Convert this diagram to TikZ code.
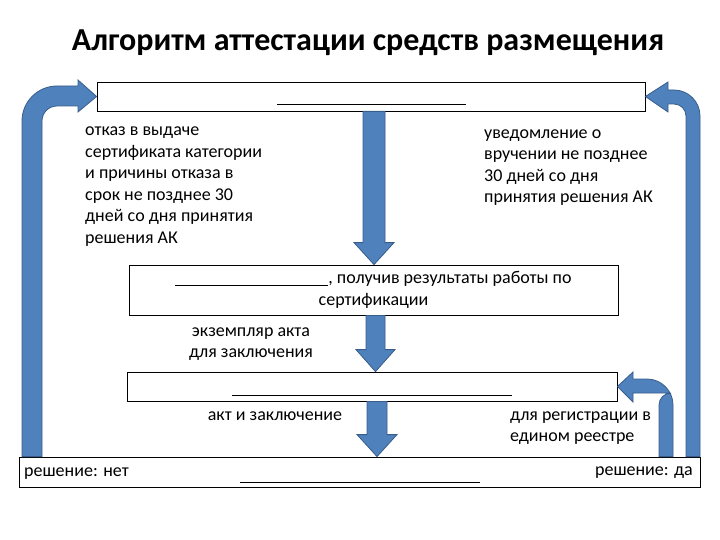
\documentclass[tikz,border=0pt]{standalone}
\usepackage{fontspec}
\setmainfont{Carlito}
\usetikzlibrary{calc}

\definecolor{arrowblue}{HTML}{4F81BD}
\definecolor{arrowedge}{HTML}{385D8A}

\tikzset{
    box/.style={draw, line width=0.8pt, inner sep=0pt},
    blockarrow/.style={fill=arrowblue, draw=arrowedge, line width=0.8pt},
    lbl/.style={inner sep=0pt, font=\fontsize{18}{21.5}\selectfont},
    blank/.style={inner sep=0pt}
}

% block arrow pointing down: from node, to node, x of axis, half shaft, half head
\newcommand{\blockdown}[5]{%
    \filldraw[blockarrow] (#3-#4,0 |- #1.south) -- ($(#3-#4,0 |- #2.north)+(0,-22)$)
        -- ($(#3-#5,0 |- #2.north)+(0,-22)$) -- (#3,0 |- #2.north)
        -- ($(#3+#5,0 |- #2.north)+(0,-22)$) -- ($(#3+#4,0 |- #2.north)+(0,-22)$)
        -- (#3+#4,0 |- #1.south) -- cycle;}

\begin{document}
\begin{tikzpicture}[x=1pt, y=-1pt]
    \useasboundingbox (0,0) rectangle (720,540);

    % Title
    \node[inner sep=0pt, font=\fontsize{32}{36}\selectfont\bfseries] (title) at (368,43) {Алгоритм аттестации средств размещения};

    % Boxes
    \node[box, minimum width=548pt, minimum height=29pt] (top) at (371,96.5) {};
    \node[box, minimum width=489pt, minimum height=50pt, align=center, font=\fontsize{18}{21.5}\selectfont] (mid) at (373.5,290)
        {\rule[-2pt]{153pt}{0.7pt}, получив результаты работы по\\сертификации};
    \node[box, minimum width=490pt, minimum height=29pt] (act) at (372,386.5) {};
    \node[box, minimum width=681pt, minimum height=30pt] (bottom) at (359.5,472) {};

    % Blanks
    \node[blank] (topline) at (371.5,104) {\rule{189pt}{0.7pt}};
    \node[blank] (actline) at (372,395) {\rule{280pt}{0.7pt}};
    \node[blank] (bottomline) at (360,482) {\rule{240pt}{0.7pt}};

    % Arrows
    \blockdown{top}{mid}{374}{11}{20}
    \blockdown{mid}{act}{375.5}{9.5}{19.5}
    \blockdown{act}{bottom}{377}{10}{20}
    % no: back to the top
    \filldraw[blockarrow] (22,0 |- bottom.north) -- (22,121) arc[start angle=180, end angle=270, radius=35]
        -- (78,86) -- (78,80) -- (top.west) -- (78,112) -- (78,106) -- (57,106)
        arc[start angle=270, end angle=180, radius=15] -- (42,0 |- bottom.north) -- cycle;
    % yes: back to the top
    \filldraw[blockarrow] (686,0 |- bottom.north) -- (686,116) arc[start angle=0, end angle=-90, radius=12]
        -- (668,104) -- (668,112) -- (top.east) -- (668,82) -- (668,90) -- (674,90)
        arc[start angle=-90, end angle=0, radius=26] -- (700,0 |- bottom.north) -- cycle;
    % yes: to registration
    \filldraw[blockarrow] (659,0 |- bottom.north) -- (659,405) arc[start angle=180, end angle=270, radius=12]
        -- (633,393) -- (633,402) -- (act.east) -- (633,372) -- (633,379) -- (647,379)
        arc[start angle=270, end angle=360, radius=26] -- (673,0 |- bottom.north) -- cycle;

    % Labels
    \node[lbl, anchor=west, align=left] (refuse) at (85,186.5) {отказ в выдаче\\сертификата категории\\и причины отказа в\\срок не позднее 30\\дней со дня принятия\\решения АК};
    \node[lbl, anchor=west, align=left] (notice) at (484,167.5) {уведомление о\\вручении не позднее\\30 дней со дня\\принятия решения АК};
    \node[lbl, align=center] (copy) at (251,344) {экземпляр акта\\для заключения};
    \node[lbl] (actlbl) at (275,416) {акт и заключение};
    \node[lbl, anchor=west, align=left] (register) at (510,428) {для регистрации в\\едином реестре};
    \node[lbl, anchor=west] (no) at (24,474) {решение: нет};
    \node[lbl, anchor=east] (yes) at (693,473) {решение: да};
\end{tikzpicture}
\end{document}
